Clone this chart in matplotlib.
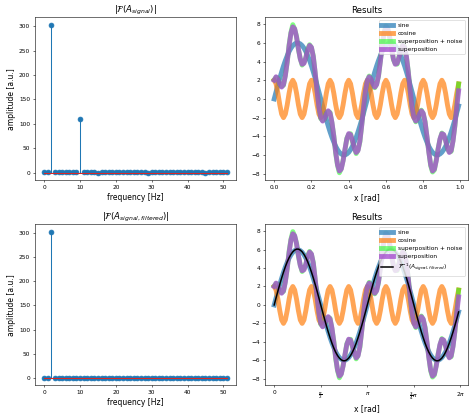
import matplotlib.pyplot as plt

# sample times [s]
t = [0.00, 0.01, 0.02, 0.03, 0.04, 0.05, 0.06, 0.07, 0.08, 0.09,
     0.10, 0.11, 0.12, 0.13, 0.14, 0.15, 0.16, 0.17, 0.18, 0.19,
     0.20, 0.21, 0.22, 0.23, 0.24, 0.25, 0.26, 0.27, 0.28, 0.29,
     0.30, 0.31, 0.32, 0.33, 0.34, 0.35, 0.36, 0.37, 0.38, 0.39,
     0.40, 0.41, 0.42, 0.43, 0.44, 0.45, 0.46, 0.47, 0.48, 0.49,
     0.50, 0.51, 0.52, 0.53, 0.54, 0.55, 0.56, 0.57, 0.58, 0.59,
     0.60, 0.61, 0.62, 0.63, 0.64, 0.65, 0.66, 0.67, 0.68, 0.69,
     0.70, 0.71, 0.72, 0.73, 0.74, 0.75, 0.76, 0.77, 0.78, 0.79,
     0.80, 0.81, 0.82, 0.83, 0.84, 0.85, 0.86, 0.87, 0.88, 0.89,
     0.90, 0.91, 0.92, 0.93, 0.94, 0.95, 0.96, 0.97, 0.98, 0.99]

sine = [0, 0.75, 1.49, 2.21, 2.89, 3.53, 4.11, 4.62, 5.07, 5.43,
        5.71, 5.89, 5.99, 5.99, 5.89, 5.71, 5.43, 5.07, 4.62, 4.11,
        3.53, 2.89, 2.21, 1.49, 0.75, 0, -0.75, -1.49, -2.21, -2.89,
        -3.53, -4.11, -4.62, -5.07, -5.43, -5.71, -5.89, -5.99, -5.99, -5.89,
        -5.71, -5.43, -5.07, -4.62, -4.11, -3.53, -2.89, -2.21, -1.49, -0.75,
        0, 0.75, 1.49, 2.21, 2.89, 3.53, 4.11, 4.62, 5.07, 5.43,
        5.71, 5.89, 5.99, 5.99, 5.89, 5.71, 5.43, 5.07, 4.62, 4.11,
        3.53, 2.89, 2.21, 1.49, 0.75, 0, -0.75, -1.49, -2.21, -2.89,
        -3.53, -4.11, -4.62, -5.07, -5.43, -5.71, -5.89, -5.99, -5.99, -5.89,
        -5.71, -5.43, -5.07, -4.62, -4.11, -3.53, -2.89, -2.21, -1.49, -0.75]

cosine = [2, 1.62, 0.62, -0.62, -1.62, -2, -1.62, -0.62, 0.62, 1.62,
          2, 1.62, 0.62, -0.62, -1.62, -2, -1.62, -0.62, 0.62, 1.62,
          2, 1.62, 0.62, -0.62, -1.62, -2, -1.62, -0.62, 0.62, 1.62,
          2, 1.62, 0.62, -0.62, -1.62, -2, -1.62, -0.62, 0.62, 1.62,
          2, 1.62, 0.62, -0.62, -1.62, -2, -1.62, -0.62, 0.62, 1.62,
          2, 1.62, 0.62, -0.62, -1.62, -2, -1.62, -0.62, 0.62, 1.62,
          2, 1.62, 0.62, -0.62, -1.62, -2, -1.62, -0.62, 0.62, 1.62,
          2, 1.62, 0.62, -0.62, -1.62, -2, -1.62, -0.62, 0.62, 1.62,
          2, 1.62, 0.62, -0.62, -1.62, -2, -1.62, -0.62, 0.62, 1.62,
          2, 1.62, 0.62, -0.62, -1.62, -2, -1.62, -0.62, 0.62, 1.62]

superpos = [2.00, 2.37, 2.11, 1.59, 1.27, 1.53, 2.49, 4.00, 5.69, 7.05,
            7.71, 7.51, 6.61, 5.37, 4.27, 3.71, 3.81, 4.45, 5.24, 5.73,
            5.53, 4.51, 2.83, 0.87, -0.87, -2.00, -2.37, -2.11, -1.59, -1.27,
            -1.53, -2.49, -4.00, -5.69, -7.05, -7.71, -7.51, -6.61, -5.37, -4.27,
            -3.71, -3.81, -4.45, -5.24, -5.73, -5.53, -4.51, -2.83, -0.87, 0.87,
            2.00, 2.37, 2.11, 1.59, 1.27, 1.53, 2.49, 4.00, 5.69, 7.05,
            7.71, 7.51, 6.61, 5.37, 4.27, 3.71, 3.81, 4.45, 5.24, 5.73,
            5.53, 4.51, 2.83, 0.87, -0.87, -2.00, -2.37, -2.11, -1.59, -1.27,
            -1.53, -2.49, -4.00, -5.69, -7.05, -7.71, -7.51, -6.61, -5.37, -4.27,
            -3.71, -3.81, -4.45, -5.24, -5.73, -5.53, -4.51, -2.83, -0.87, 0.87]

noisy = [2.05, 2.31, 2.20, 1.52, 1.35, 1.47, 2.58, 3.93, 5.80, 7.12,
         7.95, 7.44, 6.70, 5.29, 4.33, 3.62, 3.90, 4.38, 5.35, 5.80,
         5.47, 4.60, 2.75, 0.95, -0.80, -2.10, -2.30, -2.18, -1.50, -1.35,
         -1.45, -2.60, -3.92, -5.80, -7.10, -7.90, -7.45, -6.55, -5.45, -4.20,
         -3.80, -3.72, -4.55, -5.15, -5.85, -5.45, -4.60, -2.75, -0.95, 0.92,
         1.95, 2.45, 2.05, 1.65, 1.20, 1.60, 2.42, 4.10, 5.62, 7.15,
         7.85, 7.58, 6.52, 5.45, 4.20, 3.78, 3.72, 4.52, 5.15, 5.82,
         5.60, 4.45, 2.92, 0.80, -0.95, -1.92, -2.45, -2.05, -1.68, -1.20,
         -1.60, -2.42, -4.08, -5.62, -7.15, -7.82, -7.60, -6.52, -5.30, -4.35,
         -3.65, -3.88, -4.38, -5.32, -5.66, -5.62, -4.42, -2.90, -0.80, 1.60]

# inverse transform of the filtered spectrum
recon = [0, 0.76, 1.51, 2.23, 2.92, 3.56, 4.15, 4.67, 5.12, 5.48,
         5.76, 5.95, 6.05, 6.05, 5.95, 5.76, 5.48, 5.12, 4.67, 4.15,
         3.56, 2.92, 2.23, 1.51, 0.76, 0, -0.76, -1.51, -2.23, -2.92,
         -3.56, -4.15, -4.67, -5.12, -5.48, -5.76, -5.95, -6.05, -6.05, -5.95,
         -5.76, -5.48, -5.12, -4.67, -4.15, -3.56, -2.92, -2.23, -1.51, -0.76,
         0, 0.76, 1.51, 2.23, 2.92, 3.56, 4.15, 4.67, 5.12, 5.48,
         5.76, 5.95, 6.05, 6.05, 5.95, 5.76, 5.48, 5.12, 4.67, 4.15,
         3.56, 2.92, 2.23, 1.51, 0.76, 0, -0.76, -1.51, -2.23, -2.92,
         -3.56, -4.15, -4.67, -5.12, -5.48, -5.76, -5.95, -6.05, -6.05, -5.95,
         -5.76, -5.48, -5.12, -4.67, -4.15, -3.56, -2.92, -2.23, -1.51, -0.76]

freq = list(range(52))
amp = [1.2, 2.1, 303, 0.8, 1.5, 0.9, 1.7, 1.1, 0.6, 2.0,
       110, 1.4, 0.7, 1.9, 1.0, 0.5, 1.3, 2.2, 0.8, 1.6,
       0.9, 1.2, 1.8, 0.6, 1.1, 1.5, 0.7, 2.0, 1.0, 0.4,
       1.3, 1.7, 0.9, 1.2, 0.6, 1.8, 1.1, 0.8, 1.5, 0.9,
       1.4, 0.7, 1.6, 1.0, 1.2, 0.5, 1.9, 0.8, 1.3, 1.1,
       0.9, 1.4]
amp_filt = [0, 0, 303, 0, 0, 0, 0, 0, 0, 0,
            0, 0, 0, 0, 0, 0, 0, 0, 0, 0,
            0, 0, 0, 0, 0, 0, 0, 0, 0, 0,
            0, 0, 0, 0, 0, 0, 0, 0, 0, 0,
            0, 0, 0, 0, 0, 0, 0, 0, 0, 0,
            0, 0]

tick_fs = 8.5
label_fs = 11
title_fs = 12.5
lw = 7

plt.rcParams['xtick.labelsize'] = tick_fs
plt.rcParams['ytick.labelsize'] = tick_fs

fig = plt.figure(figsize=(9.48, 8.4), dpi=50)
ax1 = fig.add_axes([0.074, 0.571, 0.424, 0.388])
ax2 = fig.add_axes([0.559, 0.571, 0.428, 0.388])
ax3 = fig.add_axes([0.074, 0.083, 0.424, 0.383])
ax4 = fig.add_axes([0.559, 0.083, 0.428, 0.383])


def spectrum(ax, vals, title):
    m, s, b = ax.stem(freq, vals)
    m.set_markersize(7)
    ax.set_title(title, fontsize=title_fs)
    ax.set_xlabel('frequency [Hz]', fontsize=label_fs)
    ax.set_ylabel('amplitude [a.u.]', fontsize=label_fs)


def results(ax, filtered):
    ax.plot(t, sine, color='C0', alpha=0.7, lw=lw, label='sine')
    ax.plot(t, cosine, color='C1', alpha=0.7, lw=lw, label='cosine')
    ax.plot(t, noisy, color='lime', alpha=0.5, lw=lw, label='superposition + noise')
    ax.plot(t, superpos, color='#a64fcf', alpha=0.8, lw=lw, label='superposition')
    if filtered:
        ax.plot(t, recon, color='k', lw=2.2,
                label=r'$\mathcal{F}^{-1}(A_{signal, filtered})$')
    ax.set_title('Results', fontsize=title_fs)
    ax.set_xlabel('x [rad]', fontsize=label_fs)
    ax.legend(loc='upper right', fontsize=8.5)


spectrum(ax1, amp, r'$|\mathcal{F}(A_{signal})|$')
spectrum(ax3, amp_filt, r'$|\mathcal{F}(A_{signal, filtered})|$')
results(ax2, False)
results(ax4, True)

ax4.set_xticks([0, 0.25, 0.5, 0.75, 1.0])
ax4.set_xticklabels(['0', r'$\frac{\pi}{2}$', r'$\pi$', r'$\frac{3}{4}\pi$', r'$2\pi$'])

plt.savefig('out.png', dpi=50)
